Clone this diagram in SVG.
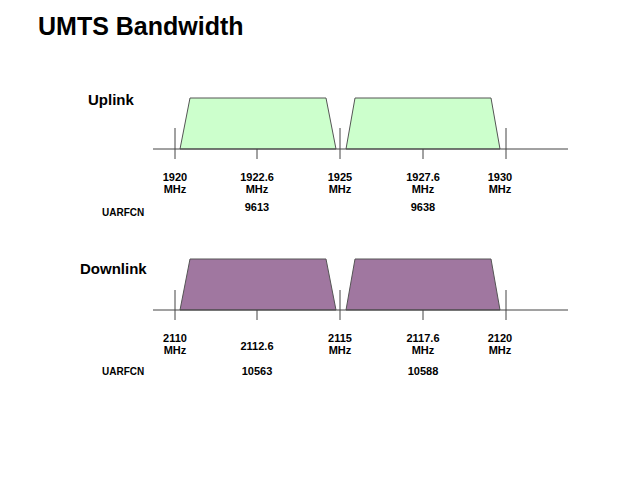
<svg xmlns="http://www.w3.org/2000/svg" width="638" height="478" viewBox="0 0 638 478">
<style>
text{font-family:"Liberation Sans",Arial,sans-serif;font-weight:bold;fill:#000}
.s{font-size:11px;text-anchor:middle}
.l{font-size:10px}
.h{font-size:15px}
.ax{stroke:#444;stroke-width:1;fill:none}
.up{fill:#ccffcc;stroke:#555;stroke-width:1}
.dn{fill:#a077a0;stroke:#555;stroke-width:1}
</style>
<rect width="638" height="478" fill="#fff"/>
<text x="38" y="35" style="font-size:25px">UMTS Bandwidth</text>
<g id="uplink">
<text x="88" y="105" class="h">Uplink</text>
<polygon class="up" points="180,149 190,98 326,98 336,149"/>
<polygon class="up" points="346,149 355,98 491,98 500,149"/>
</g>
<g id="downlink">
<text x="80" y="274" class="h">Downlink</text>
<polygon class="dn" points="180,310 190,259 326,259 336,310"/>
<polygon class="dn" points="346,310 355,259 491,259 500,310"/>
</g>
<g id="axes" class="ax">
<path d="M153 149H568M175 128V159M340 128V159M506 128V159M257 149V159M423 149V159"/>
<path d="M153 310H568M175 290V320M340 290V320M506 290V320M257 310V320M423 310V320"/>
</g>
<g id="uplabels">
<text class="s" x="175" y="181">1920</text><text class="s" x="175" y="193">MHz</text>
<text class="s" x="257" y="181">1922.6</text><text class="s" x="257" y="193">MHz</text>
<text class="s" x="340" y="181">1925</text><text class="s" x="340" y="193">MHz</text>
<text class="s" x="423" y="181">1927.6</text><text class="s" x="423" y="193">MHz</text>
<text class="s" x="500" y="181">1930</text><text class="s" x="500" y="193">MHz</text>
<text class="s" x="257" y="211">9613</text><text class="s" x="423" y="211">9638</text>
<text class="l" x="102" y="216">UARFCN</text>
</g>
<g id="dnlabels">
<text class="s" x="175" y="342">2110</text><text class="s" x="175" y="354">MHz</text>
<text class="s" x="257" y="350">2112.6</text>
<text class="s" x="340" y="342">2115</text><text class="s" x="340" y="354">MHz</text>
<text class="s" x="423" y="342">2117.6</text><text class="s" x="423" y="354">MHz</text>
<text class="s" x="500" y="342">2120</text><text class="s" x="500" y="354">MHz</text>
<text class="s" x="257" y="375">10563</text><text class="s" x="423" y="375">10588</text>
<text class="l" x="102" y="375">UARFCN</text>
</g>
</svg>
